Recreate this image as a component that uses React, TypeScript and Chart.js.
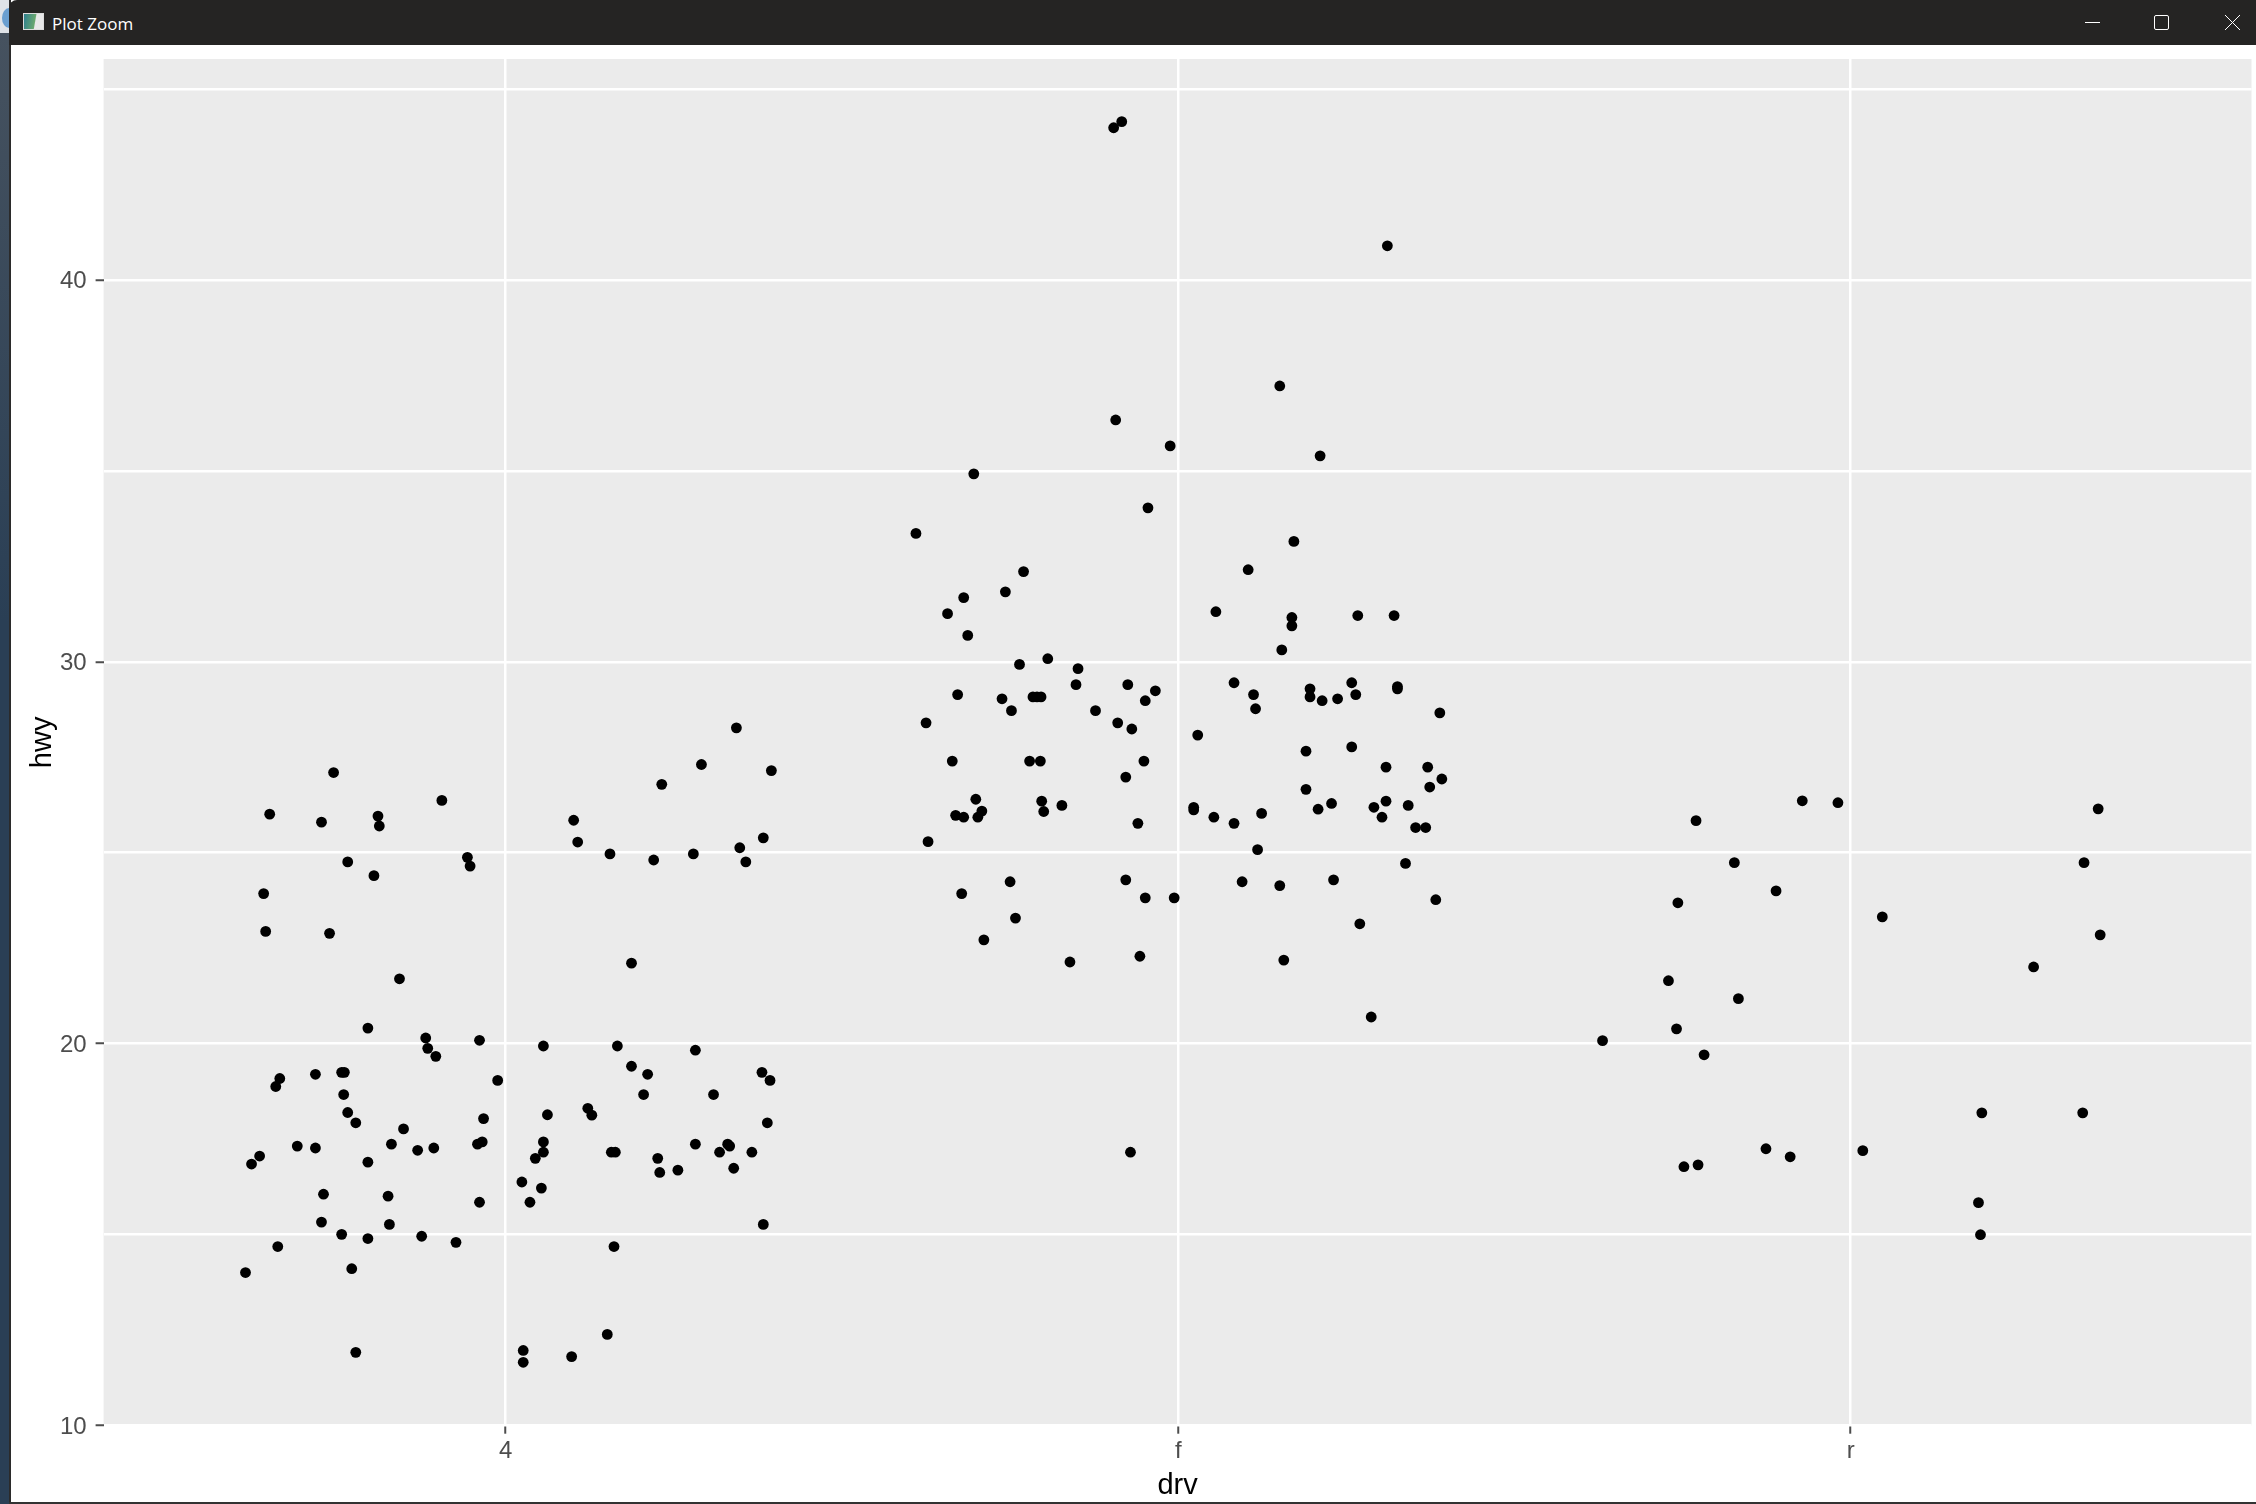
import React, { useEffect, useRef } from "react";
import { Chart, registerables } from "chart.js";

Chart.register(...registerables);

const categories = ["4", "f", "r"];
const categoryPositions = [1, 2, 3];
const hwyTicks = [10, 15, 20, 25, 30, 35, 40, 45];
const hwyLabelled = [10, 20, 30, 40];
const xTitle = "drv";
const yTitle = "hwy";
const windowTitle = "Plot Zoom";

const drv4X = [
  0.744, 0.649, 0.726, 0.81, 0.812, 0.905, 0.765, 0.804, 0.943, 0.947, 0.64, 0.643, 0.738, 0.842, 1.101, 1.107, 1.155, 1.22, 1.279, 1.348, 1.357, 1.383, 1.232, 1.291, 1.395, 1.187, 1.343,
  0.795, 0.881, 0.884, 0.896, 0.961, 1.056, 1.166, 1.282, 0.664, 0.658, 0.717, 0.756, 0.76, 0.759, 0.765, 0.777, 0.988, 0.967, 0.848, 1.187, 1.211, 1.205, 1.309, 1.381, 1.393, 1.122, 1.128, 1.062, 1.389,
  0.69, 0.717, 0.83, 0.869, 0.893, 0.958, 0.965, 0.634, 0.622, 0.795, 1.056, 1.056, 1.044, 1.157, 1.163, 1.226, 1.229, 1.256, 1.282, 1.318, 1.33, 1.333, 1.366, 1.339,
  0.729, 0.825, 0.961, 1.024, 1.053, 1.036, 0.726, 0.827, 0.756, 0.795, 0.875, 0.926, 0.661, 0.613, 0.771, 1.161, 1.383, 0.777, 1.026, 1.026, 1.098, 1.151,
];
const drv4Y = [
  27.1, 26.01, 25.8, 25.96, 25.7, 26.37, 24.76, 24.4, 24.88, 24.65, 23.93, 22.94, 22.89, 21.7, 25.85, 25.28, 24.97, 24.81, 24.97, 25.13, 24.76, 25.39, 26.79, 27.31, 27.15, 22.11, 28.27,
  20.41, 20.15, 19.88, 19.67, 20.09, 19.94, 19.94, 19.83, 19.09, 18.88, 19.2, 19.25, 19.25, 18.67, 18.2, 17.93, 19.04, 18.04, 17.77, 19.41, 19.2, 18.67, 18.67, 19.25, 19.04, 18.31, 18.13, 18.14, 17.93,
  17.32, 17.27, 17.37, 17.21, 17.27, 17.37, 17.43, 17.06, 16.85, 16.9, 17.43, 17.16, 17, 17.16, 17.16, 17, 16.63, 16.69, 17.37, 17.16, 17.37, 17.32, 17.16, 16.74,
  16.06, 16.01, 15.85, 16.38, 16.22, 15.85, 15.33, 15.27, 15.01, 14.9, 14.96, 14.8, 14.69, 14.01, 14.11, 14.69, 15.27, 11.92, 11.97, 11.66, 11.81, 12.39,
];

const drvFX = [
  1.916, 1.904, 2.311, 2.151, 1.907, 1.988, 2.211, 1.696, 1.955, 1.61, 2.172, 2.104, 1.77, 1.743, 1.681, 1.657, 1.687, 2.056, 2.169, 2.169, 2.267, 2.321, 2.154,
  1.806, 1.764, 1.851, 1.848, 1.925, 1.672, 1.738, 1.784, 1.79, 1.796, 1.752, 1.625, 1.877, 1.91, 1.931, 1.951, 1.966, 2.029, 2.083, 2.112, 2.115, 2.196, 2.196, 2.214, 2.237, 2.258, 2.264, 2.326, 2.326, 2.389,
  2.19, 2.258, 2.309, 2.371, 2.392, 2.374, 2.19, 1.664, 1.779, 1.795, 1.949, 1.922, 1.699, 1.708, 1.702, 1.669, 1.681, 1.797, 1.8, 1.827, 1.94, 1.628, 2.023, 2.023, 2.053, 2.083, 2.124, 2.208, 2.228, 2.291, 2.309, 2.303, 2.342, 2.353, 2.368,
  2.118, 2.338, 1.75, 1.678, 1.758, 1.711, 1.922, 1.951, 1.994, 2.095, 2.151, 2.231, 2.383, 2.27, 1.839, 1.943, 2.157, 1.929, 2.287,
];
const drvFY = [
  44.14, 43.98, 40.89, 37.22, 36.33, 35.65, 35.39, 34.92, 34.03, 33.36, 33.15, 32.41, 32.36, 31.83, 31.68, 31.26, 30.69, 31.31, 31.16, 30.94, 31.21, 31.21, 30.31,
  30.08, 29.93, 29.82, 29.4, 29.4, 29.14, 29.03, 29.08, 29.08, 29.08, 28.72, 28.4, 28.72, 28.4, 28.24, 28.98, 29.24, 28.08, 29.45, 29.14, 28.77, 29.29, 29.08, 28.98, 29.03, 29.45, 29.14, 29.35, 29.29, 28.66,
  27.66, 27.77, 27.24, 27.24, 26.93, 26.72, 26.66, 27.4, 27.4, 27.4, 27.4, 26.98, 26.4, 26.09, 25.93, 25.98, 25.93, 26.35, 26.08, 26.24, 25.77, 25.29, 26.19, 26.12, 25.93, 25.77, 26.03, 26.14, 26.29, 26.19, 26.35, 25.93, 26.24, 25.66, 25.66,
  25.08, 24.72, 24.24, 23.93, 23.29, 22.72, 24.29, 23.82, 23.82, 24.24, 24.14, 24.29, 23.77, 23.14, 22.14, 22.29, 22.19, 17.16, 20.7,
];

const drvRX = [
  2.928, 2.981, 2.77, 3.368, 2.827, 3.347, 2.889, 2.743, 3.047, 3.371, 3.272, 2.729, 2.833, 2.741, 2.631, 2.782, 3.195, 3.345, 2.874, 2.91, 3.018, 2.752, 2.773, 3.19, 3.193,
];
const drvRY = [
  26.36, 26.31, 25.84, 26.15, 24.74, 24.74, 24, 23.69, 23.32, 22.85, 22.01, 21.65, 21.18, 20.39, 20.08, 19.71, 18.19, 18.19, 17.25, 17.04, 17.2, 16.78, 16.83, 15.84, 15,
];

const zip = (xs: number[], ys: number[]) => xs.map((x, i) => ({ x, y: ys[i] }));

const panelPlugin = {
  id: "panel",
  beforeDraw(chart: any) {
    const { ctx, chartArea: a } = chart;
    ctx.save();
    ctx.fillStyle = "#EBEBEB";
    ctx.fillRect(a.left, a.top, a.right - a.left, a.bottom - a.top);
    ctx.restore();
  },
};

const FONT = '"Liberation Sans", Arial, sans-serif';

function App() {
  const ref = useRef<HTMLCanvasElement>(null);
  useEffect(() => {
    const dataset = (label: string, xs: number[], ys: number[]) => ({
      label,
      data: zip(xs, ys),
      backgroundColor: "#000000",
      borderWidth: 0,
      pointRadius: 5.4,
    });
    const chart = new Chart(ref.current!, {
      type: "scatter",
      data: {
        datasets: [
          dataset(categories[0], drv4X, drv4Y),
          dataset(categories[1], drvFX, drvFY),
          dataset(categories[2], drvRX, drvRY),
        ],
      },
      plugins: [panelPlugin],
      options: {
        responsive: false,
        animation: false,
        layout: { autoPadding: false, padding: { left: 0, right: 4.5, top: 59, bottom: 0 } },
        plugins: { legend: { display: false }, tooltip: { enabled: false }, title: { display: false } },
        scales: {
          x: {
            type: "linear",
            min: 0.402,
            max: 3.596,
            afterBuildTicks(s: any) {
              s.ticks = categoryPositions.map((value) => ({ value }));
            },
            afterFit(s: any) {
              s.height = 78.3;
            },
            border: { display: false },
            grid: { color: "#FFFFFF", lineWidth: 2.5, tickColor: "#4D4D4D", tickLength: 8, tickWidth: 2 },
            ticks: {
              color: "#4D4D4D",
              padding: 3.5,
              maxRotation: 0,
              autoSkip: false,
              font: { family: FONT, size: 24 },
              callback: (v: any) => categories[categoryPositions.indexOf(v)] ?? "",
            },
            title: { display: true, text: xTitle, color: "#000000", font: { family: FONT, size: 29 }, padding: { top: 0, bottom: 1 } },
          },
          y: {
            type: "linear",
            min: 10,
            max: 45.78,
            afterBuildTicks(s: any) {
              s.ticks = hwyTicks.map((value) => ({ value }));
            },
            afterFit(s: any) {
              s.width = 103.6;
            },
            border: { display: false },
            grid: {
              color: "#FFFFFF",
              lineWidth: 2.5,
              tickLength: 8,
              tickWidth: 2,
              tickColor: (c: any) => (hwyLabelled.includes(c.tick?.value) ? "#4D4D4D" : "rgba(0,0,0,0)"),
            },
            ticks: {
              color: "#4D4D4D",
              padding: 9,
              labelOffset: 1.5,
              autoSkip: false,
              font: { family: FONT, size: 24 },
              callback: (v: any) => (hwyLabelled.includes(v) ? String(v) : ""),
            },
            title: { display: true, text: yTitle, color: "#000000", font: { family: FONT, size: 29 }, padding: { top: 26, bottom: 0 } },
          },
        },
      },
    } as any);
    return () => chart.destroy();
  }, []);

  const box = (s: React.CSSProperties): React.CSSProperties => ({ position: "absolute", ...s });
  return (
    <div style={{ position: "fixed", left: 0, top: 0, width: 2256, height: 1504, overflow: "hidden", background: "#FFFFFF" }}>
      <div style={box({ left: 0, top: 33, width: 9, height: 1471, background: "linear-gradient(#46525f, #2a3f55 40%, #2a3f55)" })} />
      <div style={box({ left: 0, top: 0, width: 9, height: 33, background: "#dfe3e8" })} />
      <div style={box({ left: 2, top: 8, width: 14, height: 20, borderRadius: "50%", background: "#6a9fd0" })} />
      <div style={box({ left: 9, top: 0, width: 2, height: 1504, background: "#2b2b2b" })} />
      <div style={box({ left: 9, top: 1502, width: 2247, height: 2, background: "#333333" })} />
      <div style={box({ left: 9, top: 0, width: 2247, height: 45, background: "#252423", borderTopLeftRadius: 8 })} />
      <div style={box({ left: 23, top: 13, width: 21, height: 17, background: "linear-gradient(100deg,#2f7f8f,#69a86f 55%,#e8e8e8 60%)", border: "1px solid #ddd", boxSizing: "border-box" })} />
      <div style={box({ left: 52, top: 10, height: 28, lineHeight: "28px", color: "#FFFFFF", fontFamily: '"Open Sans", sans-serif', fontSize: 17 })}>{windowTitle}</div>
      <svg style={box({ left: 2070, top: 0 })} width={186} height={45}>
        <line x1={15} y1={22.5} x2={30} y2={22.5} stroke="#fff" strokeWidth={1} />
        <rect x={84.5} y={15.5} width={14} height={14} rx={1.5} fill="none" stroke="#fff" strokeWidth={1} />
        <line x1={155} y1={15} x2={170} y2={30} stroke="#fff" strokeWidth={1} />
        <line x1={170} y1={15} x2={155} y2={30} stroke="#fff" strokeWidth={1} />
      </svg>
      <canvas ref={ref} width={2256} height={1504} style={box({ left: 0, top: 0, width: 2256, height: 1504 })} />
    </div>
  );
}

export default App;
